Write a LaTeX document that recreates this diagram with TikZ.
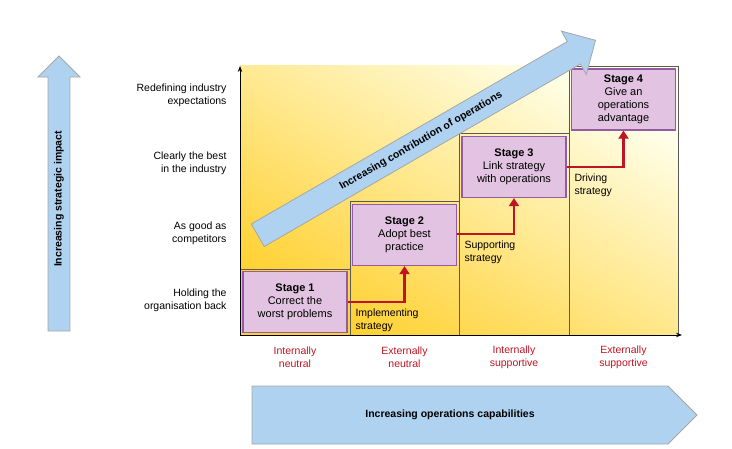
\documentclass[tikz,border=0pt]{standalone}
\usepackage{fontspec}
\setmainfont{Liberation Sans}
\usetikzlibrary{shapes.arrows,positioning,arrows.meta}
\definecolor{stagefill}{RGB}{226,196,226}
\definecolor{stageline}{RGB}{150,90,160}
\definecolor{stepred}{RGB}{190,20,35}
\definecolor{arrowblue}{RGB}{175,210,240}
\tikzset{
  stage/.style={draw=stageline,line width=1.2pt,fill=stagefill,minimum width=104pt,
    minimum height=61pt,align=center,font=\fontsize{11}{13}\selectfont,inner sep=1pt},
  stepline/.style={draw=stepred,line width=2.2pt,-{Triangle[length=8pt,width=10pt]}},
  ylab/.style={align=right,anchor=east,font=\fontsize{10.5}{13}\selectfont},
  xlab/.style={align=center,text=stepred,font=\fontsize{10.5}{13}\selectfont},
  slab/.style={align=left,anchor=north west,font=\fontsize{10.5}{13}\selectfont},
  bigarrow/.style={single arrow,draw=gray!70,line width=0.8pt,fill=arrowblue,
    single arrow head extend=8pt,font=\bfseries\fontsize{10.5}{12}\selectfont}
}
\begin{document}
\begin{tikzpicture}[x=1pt,y=1pt]
\useasboundingbox (0,0) rectangle (732,448);
% background
\shade[shading=axis,top color=yellow!8,bottom color=orange!45!yellow!80,shading angle=-30]
  (240,113) rectangle (678,382);
\draw[gray!70!black,line width=0.8pt] (240,179) -| (350,247) -| (459,315) -| (569,382) -- (678,382)
  (350,113) -- (350,179) (459,113) -- (459,247) (569,113) -- (569,315) (678,113) -- (678,382);
% axes
\draw[line width=0.9pt,-{Stealth[length=6pt]}] (240,113) -- (240,382);
\draw[line width=0.9pt,-{Stealth[length=6pt]}] (240,113) -- (682,113);
% stages
\node[stage] (s1) at (295,146) {\textbf{Stage 1}\\Correct the\\worst problems};
\node[stage] (s2) at (404.5,213) {\textbf{Stage 2}\\Adopt best\\practice};
\node[stage] (s3) at (514,281) {\textbf{Stage 3}\\Link strategy\\with operations};
\node[stage] (s4) at (623.5,348.5) {\textbf{Stage 4}\\Give an\\operations\\advantage};
% steps
\draw[stepline] (s1.east |- 0,146) -| (s2.south);
\draw[stepline] (s2.east |- 0,214) -| (s3.south);
\draw[stepline] (s3.east |- 0,281) -| (s4.south);
\node[slab] (t1) at (352,143) {Implementing\\strategy};
\node[slab] (t2) at (461,211) {Supporting\\strategy};
\node[slab] (t3) at (571,278) {Driving\\strategy};
% y labels
\node[ylab] (y4) at (230,353) {Redefining industry\\expectations};
\node[ylab] (y3) at (230,285) {Clearly the best\\in the industry};
\node[ylab] (y2) at (230,215) {As good as\\competitors};
\node[ylab] (y1) at (230,148) {Holding the\\organisation back};
% x labels
\node[xlab] (x1) at (295,91) {Internally\\neutral};
\node[xlab] (x2) at (404.5,91) {Externally\\neutral};
\node[xlab] (x3) at (514,91) {Internally\\supportive};
\node[xlab] (x4) at (623.5,91) {Externally\\supportive};
% big arrows
\node[bigarrow,minimum height=275pt,minimum width=42pt,rotate=90] (va) at (59,249) {Increasing strategic impact};
\node[bigarrow,minimum height=445pt,minimum width=58pt,single arrow head extend=0pt] (ha) at (460,33)
  {\hspace*{-20pt}Increasing operations capabilities};
\node[bigarrow,minimum height=390pt,minimum width=50pt,rotate=30] (da) at (421,307) {Increasing contribution of operations};
\end{tikzpicture}
\end{document}
